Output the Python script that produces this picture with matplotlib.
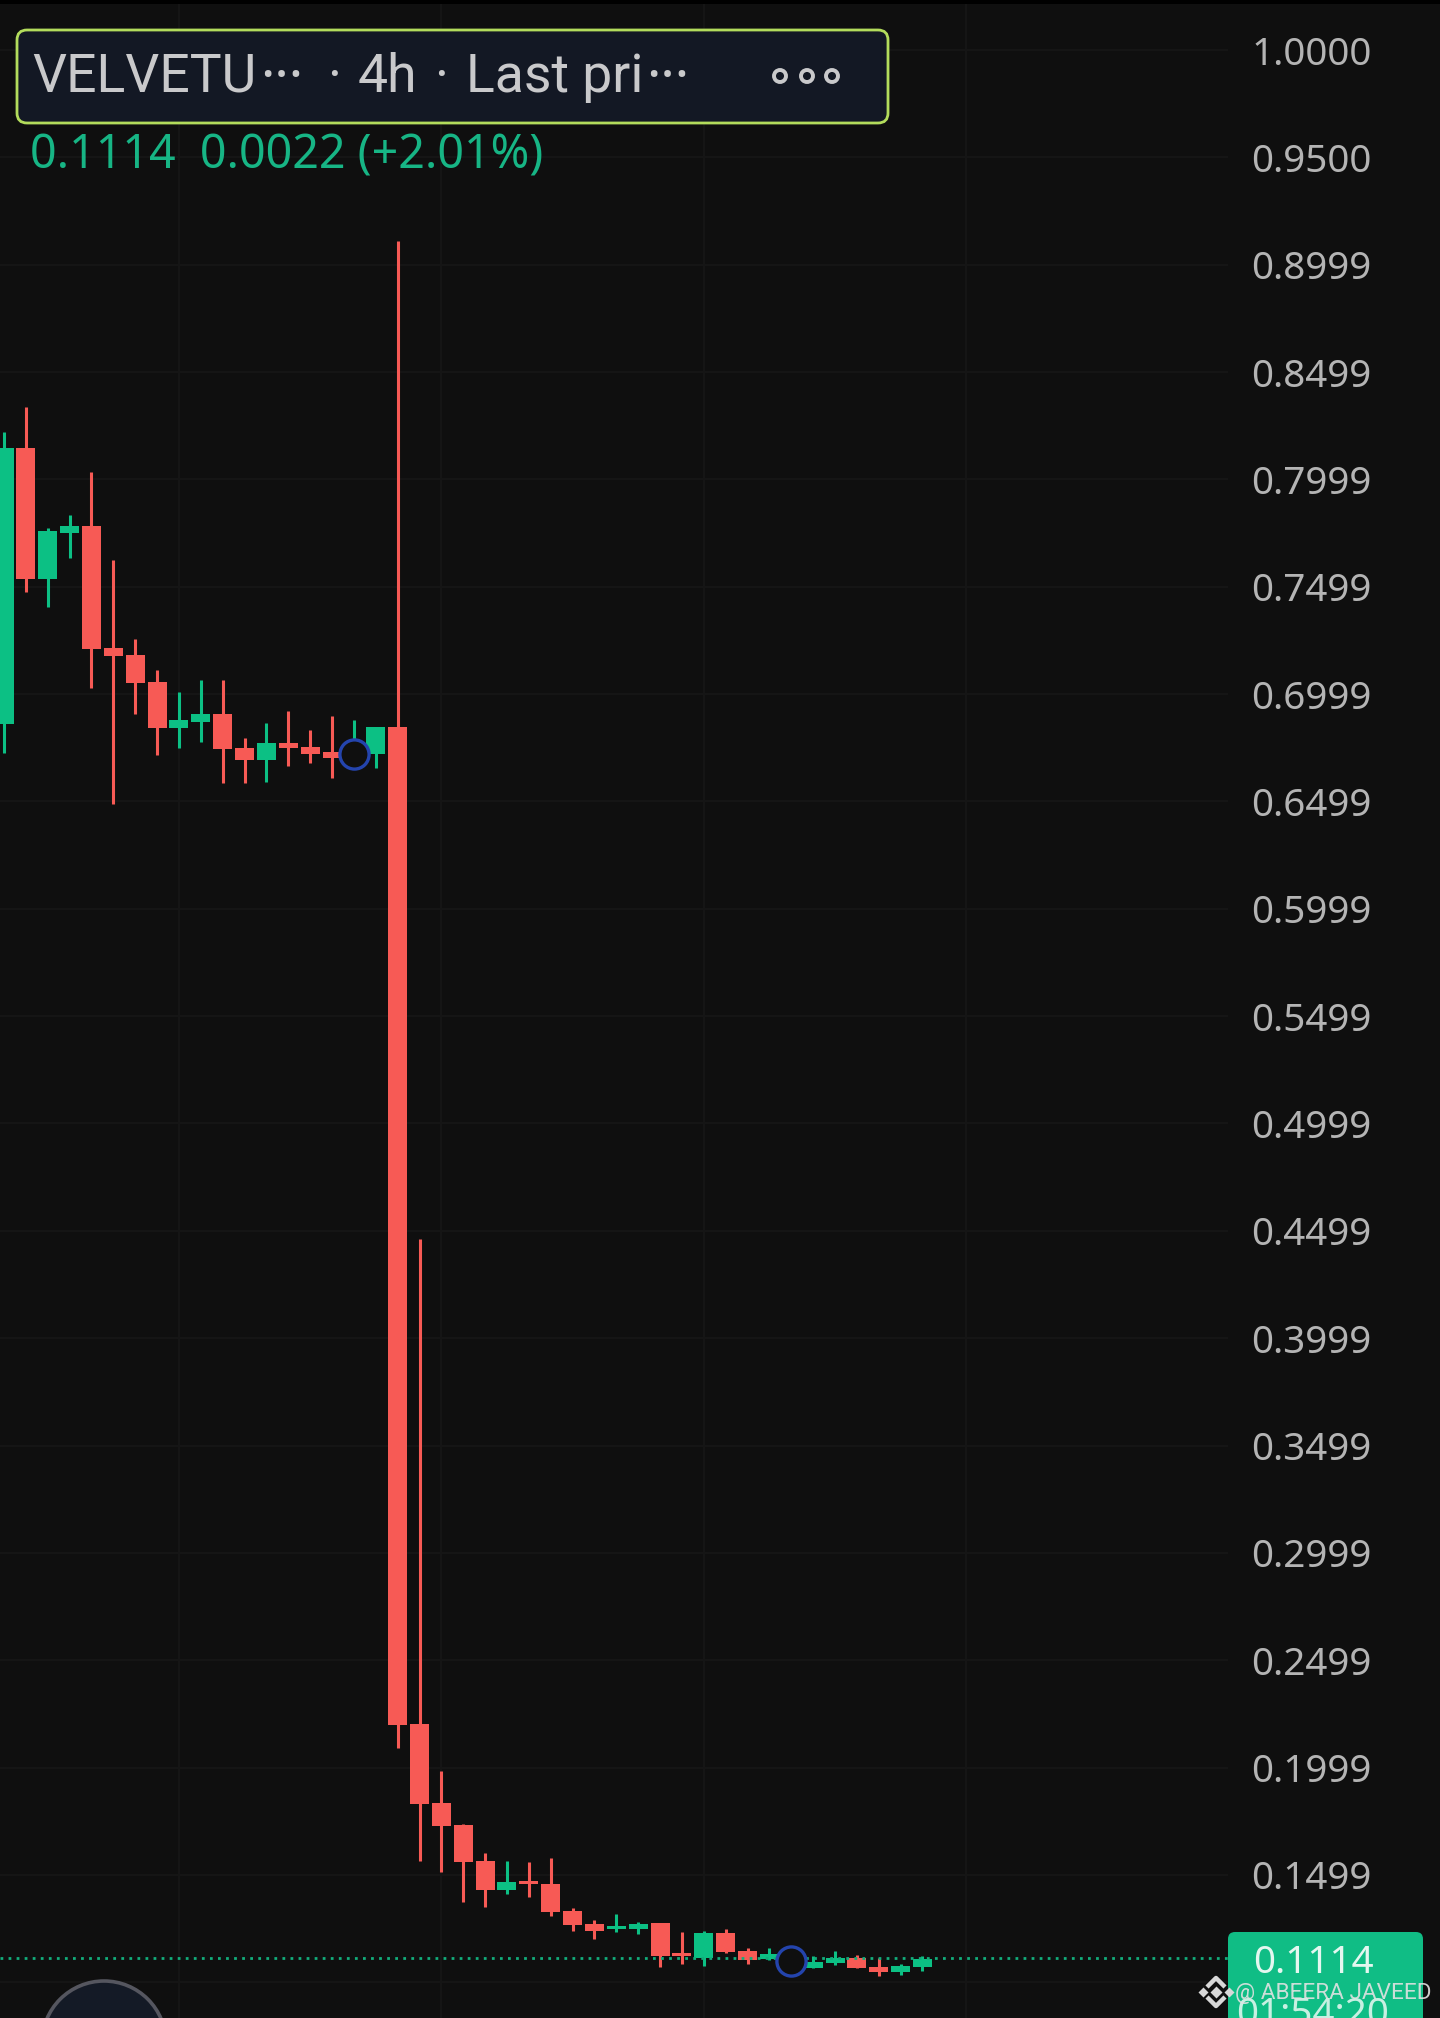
import matplotlib
matplotlib.use('Agg')
import matplotlib.pyplot as plt
from matplotlib.patches import FancyBboxPatch, Circle, Rectangle

plt.rcParams['font.family'] = ['Noto Sans', 'DejaVu Sans']

# Candles, one per 4h, left to right
opens = [.6861, .8145, .7536, .7752, .7784, .7214, .7182, .7058, .6841, .6872, .6909,
         .6748, .6692, .6773, .6754, .6729, .6690, .6723, .6847, .2204, .1837, .1732,
         .1564, .1428, .1473, .1459, .1334, .1272, .1246, .1248, .1275, .1138, .1112,
         .1229, .1147, .1110, .1105, .1068, .1088, .1112, .1073, .1048, .1073]
highs = [.8219, .8338, .7772, .7834, .8033, .7623, .7257, .7113, .7009, .7065, .7065,
         .6797, .6866, .6922, .6835, .6897, .6878, .6847, .9112, .4462, .1982, .1738,
         .1602, .1564, .1558, .1577, .1347, .1291, .1316, .1279, .1278, .1236, .1240,
         .1247, .1161, .1161, .1108, .1123, .1147, .1129, .1114, .1085, .1123]
lows = [.6725, .7474, .7404, .7635, .7027, .6487, .6908, .6715, .6748, .6777, .6585,
        .6585, .6591, .6666, .6678, .6610, .6660, .6655, .2091, .1563, .1515, .1375,
        .1352, .1409, .1395, .1310, .1240, .1203, .1235, .1223, .1073, .1085, .1077,
        .1136, .1085, .1104, .1102, .1068, .1079, .1068, .1031, .1034, .1054]
closes = [.8145, .7536, .7760, .7784, .7209, .7176, .7052, .6841, .6878, .6909, .6742,
          .6692, .6773, .6748, .6723, .6704, .6730, .6847, .2199, .1831, .1726, .1558,
          .1428, .1465, .1459, .1329, .1267, .1241, .1260, .1272, .1123, .1124, .1229,
          .1143, .1106, .1132, .1107, .1093, .1114, .1068, .1049, .1077, .1110]

price_ticks = [1.0, .95, .90, .85, .80, .75, .70, .65, .60, .55, .50, .45, .40, .35, .30, .25, .20, .15, .10]
price_labels = ['1.0000', '0.9500', '0.8999', '0.8499', '0.7999', '0.7499', '0.6999', '0.6499',
                '0.5999', '0.5499', '0.4999', '0.4499', '0.3999', '0.3499', '0.2999', '0.2499',
                '0.1999', '0.1499', '']
time_ticks = [8, 20, 32, 44]
last_price = 0.1114
signal_idx = [16, 36]
signal_price = [.6721, .1099]

BG = '#0f0f0f'
GRID = '#161616'
RED = '#f75a55'
GREEN = '#0cc084'
TEXT = '#b4b4b4'

fig = plt.figure(figsize=(14.4, 20.18), dpi=100, facecolor=BG)
ax = fig.add_axes([0, 0, 1228 / 1440, 1], facecolor=BG)

# Candles
for i in range(len(opens)):
    col = GREEN if closes[i] >= opens[i] else RED
    ax.vlines(i, lows[i], highs[i], color=col, lw=2.2, zorder=3)
    ax.bar(i, abs(closes[i] - opens[i]), bottom=min(opens[i], closes[i]), width=0.87, color=col, zorder=4)

ax.axhline(last_price, color='#12ad7b', lw=2.0, ls=(0, (1.0, 1.9)), zorder=5)
ax.plot(signal_idx, signal_price, 'o', ms=21, mfc=BG, mec='#2444ad', mew=2.4, ls='none', zorder=6)

ax.set_xlim(-0.183, 55.97)
ax.set_ylim(0.08337, 1.02329)
ax.set_xticks(time_ticks)
ax.set_xticklabels([])
ax.set_yticks(price_ticks)
ax.set_yticklabels(price_labels)
ax.yaxis.tick_right()
ax.tick_params(axis='both', length=0)
ax.tick_params(axis='y', pad=17, labelsize=27.8, labelcolor=TEXT)
ax.grid(True, color=GRID, lw=1.3)
ax.set_axisbelow(True)
for s in ax.spines.values():
    s.set_visible(False)

# Overlay in screen pixels for the legend, price tag and watermark
ov = fig.add_axes([0, 0, 1, 1], facecolor='none')
ov.set_xlim(0, 1440)
ov.set_ylim(2018, 0)
ov.axis('off')

ov.add_patch(Rectangle((0, 0), 1440, 4, color='black', lw=0))

# Legend box
ov.add_patch(FancyBboxPatch((17, 30), 871, 93, boxstyle='round,pad=0,rounding_size=10',
                            fc='#131824', ec='#b3dc5c', lw=2))
LEG = '#c9c9cb'
for x, s, fam in [(32, 'VELVETU', 'Roboto'), (260, '···', 'Noto Sans'), (327, '·', 'Roboto'), (358, '4h', 'Roboto'),
                  (434, '·', 'Roboto'), (466, 'Last pri', 'Roboto'), (646, '···', 'Noto Sans')]:
    ov.text(x, 92, s, color=LEG, fontsize=38.5, va='baseline', ha='left', family=fam)
for x in [780, 807, 832]:
    ov.add_patch(Circle((x, 76), 6, fc='none', ec=LEG, lw=2.8))
ov.text(30, 169, '0.1114  0.0022 (+2.01%)', color='#17b585', fontsize=33.6, va='baseline', ha='left')

# Last price tag
ov.add_patch(FancyBboxPatch((1228, 1932), 195, 130, boxstyle='round,pad=0,rounding_size=7',
                            fc='#10bd85', ec='none'))
ov.text(1313, 1973, '0.1114', color='#e4f7f0', fontsize=27.8, va='baseline', ha='center')
ov.text(1313, 2025, '01:54:20', color='#c8f0e2', fontsize=27.8, va='baseline', ha='center')

# Bottom left button, mostly cut off
ov.add_patch(Circle((104, 2043), 62, fc='#141a26', ec='#55565f', lw=2.6))

# Watermark: logo from two chevrons and three small diamonds, then the name
LOGO = '#d8d8d8'
ov.plot([1207, 1216, 1225], [1987, 1978, 1987], color=LOGO, lw=3.2, solid_capstyle='butt')
ov.plot([1207, 1216, 1225], [1997, 2006, 1997], color=LOGO, lw=3.2, solid_capstyle='butt')
for dx, size in [(-13, 5), (0, 6.5), (13, 5)]:
    ov.plot(1216 + dx, 1992, 'D', ms=size, mfc=LOGO, mec='none')
ov.text(1235, 1999, '@ ABEERA JAVEED', color='#e2e2e2', fontsize=16.2, va='baseline', ha='left', alpha=0.9,
        family='Roboto')

fig.savefig('out.png', dpi=100, facecolor=BG)
